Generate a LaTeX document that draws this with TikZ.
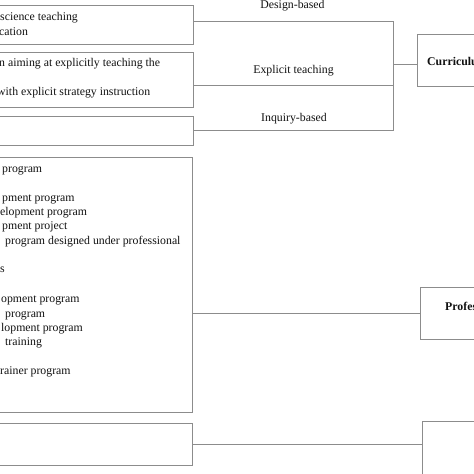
\documentclass[tikz,border=0pt]{standalone}
\usepackage{fontspec}
\setmainfont{Liberation Serif}
\definecolor{linegray}{HTML}{8C8C8C}
\definecolor{textcol}{HTML}{111111}
\tikzset{
  box/.style={draw=linegray, line width=0.9bp, anchor=north west, inner sep=0pt},
  conn/.style={draw=linegray, line width=0.9bp},
  txt/.style={anchor=base west, inner sep=0pt, text=textcol, font=\fontsize{11.8bp}{14bp}\selectfont},
  lbl/.style={anchor=center, inner sep=0pt, text=textcol, font=\fontsize{11.8bp}{14bp}\selectfont},
  btxt/.style={anchor=west, inner sep=0pt, text=textcol, font=\fontsize{11.8bp}{14bp}\selectfont\bfseries}
}
\begin{document}
\begin{tikzpicture}[x=1bp,y=-1bp]
\useasboundingbox (0,0) rectangle (474,474);
\clip (0,0) rectangle (474,474);
% left boxes
\node[box, minimum width=203bp, minimum height=39bp] (b1) at (-10,5) {};
\node[box, minimum width=203bp, minimum height=55bp] (b2) at (-10,52) {};
\node[box, minimum width=203bp, minimum height=29bp] (b3) at (-10,116) {};
\node[box, minimum width=202bp, minimum height=255bp] (b4) at (-10,157) {};
\node[box, minimum width=202bp, minimum height=42bp] (b5) at (-10,423) {};
% right boxes
\node[box, minimum width=70bp, minimum height=52bp] (cur) at (416.5,34) {};
\node[box, minimum width=70bp, minimum height=52bp] (prof) at (419.5,287) {};
\node[box, minimum width=70bp, minimum height=60bp] (last) at (422,421) {};
% texts in box 1
\node[txt] (t11) at (0,20.5) {science teaching};
\node[txt] (t12) at (-1,35.5) {cation};
% box 2
\node[txt] (t21) at (-1,67) {n aiming at explicitly teaching the};
\node[txt] (t22) at (-3,96) {with explicit strategy instruction};
% box 4
\node[txt] (t41) at (2,173) {program};
\node[txt] (t42) at (2,202) {pment program};
\node[txt] (t43) at (0,216) {elopment program};
\node[txt] (t44) at (2,230) {pment project};
\node[txt] (t45) at (5,244) {program designed under professional};
\node[txt] (t46) at (0,272) {s};
\node[txt] (t47) at (1,302) {opment program};
\node[txt] (t48) at (5,317) {program};
\node[txt] (t49) at (1,331) {lopment program};
\node[txt] (t410) at (5,345) {training};
\node[txt] (t411) at (0,374) {rainer program};
% right texts
\node[btxt] (tc) at (427,61) {Curriculum};
\node[btxt] (tp) at (445,306.5) {Professional};
% junction
\coordinate (j1) at (393,21.5);
\coordinate (j2) at (393,85.5);
\coordinate (j3) at (393,130);
\coordinate (jm) at (393,64);
\draw[conn] (b1.east |- j1) -- (j1) -- (j3) -- (b3.east |- j3);
\draw[conn] (b2.east |- j2) -- (j2);
\draw[conn] (jm) -- (cur.west |- jm);
\draw[conn] (b4.east |- prof.west) -- (prof.west);
\draw[conn] (b5.east) -- (last.west |- b5.east);
% edge labels
\node[lbl] (ld) at (292.5,6) {Design-based};
\node[lbl] (le) at (293.5,71) {Explicit teaching};
\node[lbl] (li) at (294,119) {Inquiry-based};
\end{tikzpicture}
\end{document}
